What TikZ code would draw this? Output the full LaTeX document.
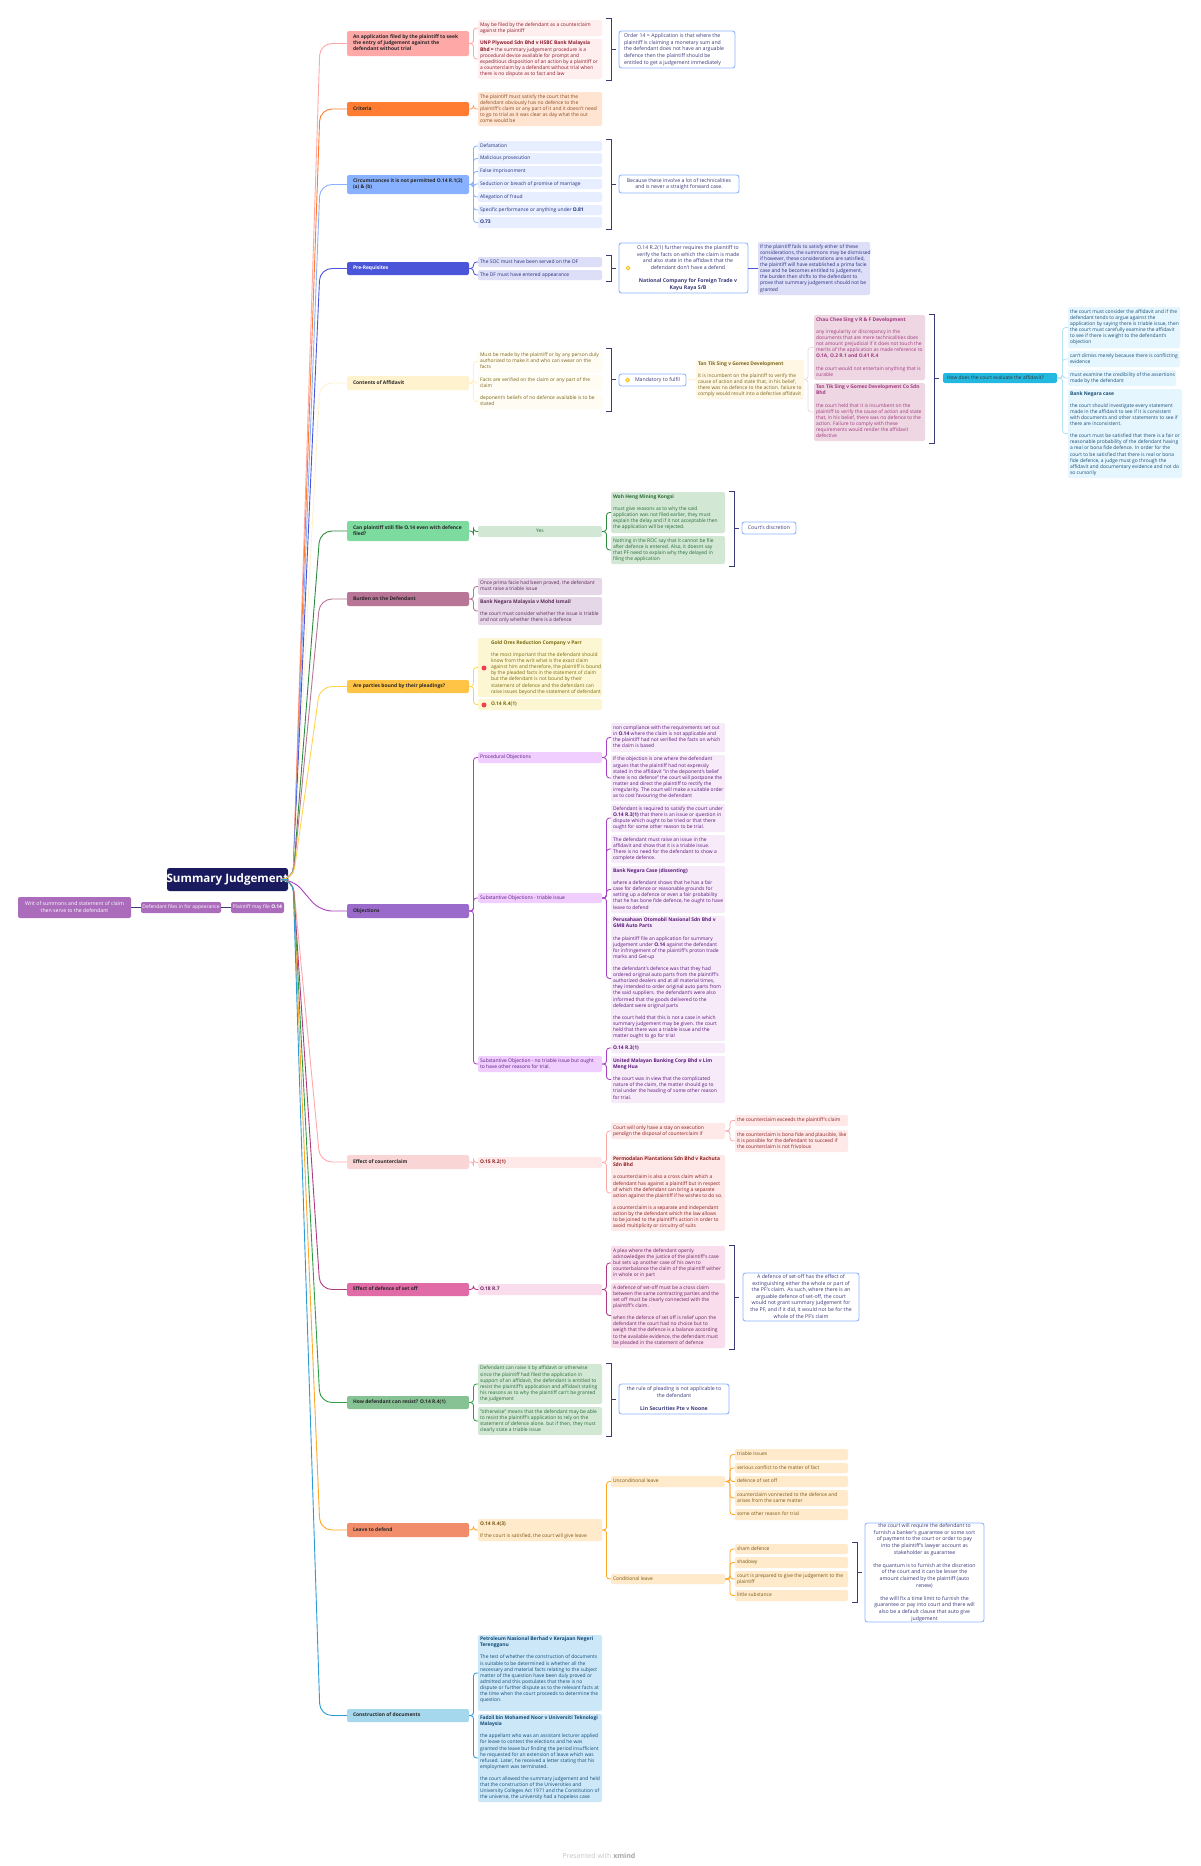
\documentclass[tikz,border=0pt]{standalone}
\usepackage{fontspec}
\setmainfont{Open Sans}
\newcommand{\fsn}{\fontsize{4.95}{6.1}\selectfont}
\newcommand{\fsc}{\fontsize{5.2}{6.6}\selectfont}
\newcommand{\lbx}[8][2]{%
  \pgfmathsetmacro{\cw}{#6-#4}\pgfmathsetmacro{\ch}{#7-#5}\pgfmathsetmacro{\tw}{#6-#4-2*#1}%
  \node[tbox,#3,inner xsep=#1pt,minimum width=\cw pt,minimum height=\ch pt] (#2) at ({(#4+#6)/2},{(#5+#7)/2})
    {\makebox[\tw pt][l]{\begin{tabular}{@{}l@{}}#8\end{tabular}}};}
\newcommand{\cbx}[8][2]{%
  \pgfmathsetmacro{\cw}{#6-#4}\pgfmathsetmacro{\ch}{#7-#5}\pgfmathsetmacro{\tw}{#6-#4-2*#1}%
  \node[tbox,#3,inner xsep=#1pt,minimum width=\cw pt,minimum height=\ch pt] (#2) at ({(#4+#6)/2},{(#5+#7)/2})
    {\makebox[\tw pt][c]{\begin{tabular}{@{}c@{}}#8\end{tabular}}};}
\newcommand{\kids}[4][4.5]{\foreach \cc in {#4}{\draw[conn=#2] (#3.east) -- ++(#1,0) |- (\cc.west);}}
\newcommand{\brk}[4][5]{\draw[brk] (#2-5,#3) -| (#2,#4) -- (#2-5,#4);
  \draw[brk] (#2,{(#3+#4)/2}) -- ++(#1,0);}
\newcommand{\limb}[2]{\draw[limbline=#1] (root.east) -- ++(5,0) -- (320,0 |- #2.west) -- (#2.west);}
\newcommand{\BL}{\\[6.1pt]}
\newcommand{\BC}{\\[6.6pt]}
\newcommand{\dc}[1]{\definecolor{#1}{HTML}{#1}}
\dc{AB6CBC}\dc{FFA8A8}\dc{FFEEEE}\dc{FF7D33}\dc{FFE4D1}\dc{FFA066}\dc{88B2FF}\dc{E6EEFF}\dc{4A55D9}\dc{DDDEF8}
\dc{FFF2CF}\dc{FFFCF3}\dc{FFF7E3}\dc{EED6E2}\dc{22B8E0}\dc{E6F6FE}\dc{FFEFC4}\dc{F0D8E4}\dc{B5E3F5}\dc{7DDBA0}
\dc{D2E8D5}\dc{2E8B3E}\dc{B97596}\dc{E5D6E8}\dc{FFC445}\dc{FDF6D2}\dc{F5C518}\dc{F04050}\dc{FFD54F}\dc{9B6BCC}
\dc{F0CEFF}\dc{F7EAF9}\dc{A83FC4}\dc{F9D5D5}\dc{FEE8E8}\dc{E06BA6}\dc{F9DDEC}\dc{B03A80}\dc{86C294}\dc{2E9E46}
\dc{F28D6C}\dc{FFEBCC}\dc{FFA726}\dc{A5D8EC}\dc{CCE8F8}\dc{2E9BD6}
\definecolor{T1}{HTML}{8B1A2B}\definecolor{T2}{HTML}{8A4A20}\definecolor{T3}{HTML}{26307A}\definecolor{T4}{HTML}{7A6520}
\definecolor{T5}{HTML}{A03A80}\definecolor{T6}{HTML}{1A4F75}\definecolor{T7}{HTML}{2A6B35}\definecolor{T8}{HTML}{5A2A55}
\definecolor{T9}{HTML}{7A6A10}\definecolor{T10}{HTML}{5A1A7A}\definecolor{T11}{HTML}{8B2020}\definecolor{T12}{HTML}{6A2560}
\definecolor{T13}{HTML}{7A5515}\definecolor{T14}{HTML}{124A75}
\definecolor{navy}{HTML}{3B3B7A}
\definecolor{rootc}{HTML}{1A1A5E}
\definecolor{cblue}{HTML}{8FB4FF}
\tikzset{
  tbox/.style={rectangle,rounded corners=2pt,inner ysep=0pt,outer sep=0pt,font=\fsn},
  mainb/.style={font=\fsn\bfseries,text=black!85},
  call/.style={fill=white,draw=cblue,line width=.9pt,rounded corners=2.5pt,font=\fsc,text=navy},
  conn/.style={draw=#1,line width=.85pt,rounded corners=3pt},
  brk/.style={draw=navy,line width=.75pt},
  limbline/.style={draw=#1,line width=.9pt,rounded corners=12pt},
  ring/.style={circle,fill=white,draw=#1,line width=1pt,inner sep=0pt,minimum size=3.6pt},
  dot/.style={circle,fill=#1,inner sep=0pt,minimum size=5pt}
}
\begin{document}
\begin{tikzpicture}[x=1pt,y=-1pt]
\fill[white] (0,0) rectangle (1200,1866);
\useasboundingbox (0,0) rectangle (1200,1866);
% ---- root and floating
\cbx[4]{root}{fill=rootc,text=white,font=\fontsize{11.6}{14}\selectfont\bfseries,rounded corners=2.5pt}{167}{868}{288}{891}{Summary Judgement}
\cbx{plf}{fill=AB6CBC,text=white}{231}{902}{284}{913}{Plaintiff may file \textbf{O.14}}
\cbx{dfa}{fill=AB6CBC,text=white}{141}{902}{221}{913}{Defendant files in for appearance}
\cbx{wrt}{fill=AB6CBC,text=white,font=\fsc}{18}{897}{131}{918}{Writ of summons and statement of claim\\then serve to the defendant}
\draw[brk,line width=.9pt] (plf.west) -- (dfa.east);
\draw[brk,line width=.9pt] (dfa.west) -- (wrt.east);
% ---- application
\lbx[6]{a0}{mainb,fill=FFA8A8}{347}{31}{469}{56}{An application filed by the plaintiff to seek\\the entry of judgement against the\\defendant without trial}
\lbx{a1}{fill=FFEEEE,text=T1}{478}{20}{602}{36}{May be filed by the defendant as a counterclaim\\against the plaintiff}
\lbx{a2}{fill=FFEEEE,text=T1}{478}{39}{602}{79}{\textbf{UNP Plywood Sdn Bhd v HSBC Bank Malaysia}\\\textbf{Bhd =} the summary judgement procedure is a\\procedural device available for prompt and\\expeditious disposition of an action by a plaintiff or\\a counterclaim by a defendant without trial when\\there is no dispute as to fact and law}
\lbx[5]{a3}{call}{619}{31}{735}{68}{Order 14 = Application is that where the\\plaintiff is claiming a monetary sum and\\the defendant does not have an arguable\\defence then the plaintiff should be\\entitled to get a judgement immediately}
\kids{FFA8A8}{a0}{a1,a2}
\brk{611}{18}{80}
% ---- criteria
\lbx[6]{b0}{mainb,fill=FF7D33}{347}{102}{469}{116}{Criteria}
\lbx{b1}{fill=FFE4D1,text=T2}{478}{92}{602}{126}{The plaintiff must satisfy the court that the\\defendant obviously has no defence to the\\plaintiff's claim or any part of it and it doesn't need\\to go to trial as it was clear as day what the out\\come would be}
\kids{FFA066}{b0}{b1}
% ---- circumstances
\lbx[6]{c0}{mainb,fill=88B2FF}{347}{175}{469}{194}{Circumstances it is not permitted O.14 R.1(2)\\(a) \& (b)}
\lbx{c1}{fill=E6EEFF,text=T3}{478}{141}{602}{151}{Defamation}
\lbx{c2}{fill=E6EEFF,text=T3}{478}{153}{602}{164}{Malicious prosecution}
\lbx{c3}{fill=E6EEFF,text=T3}{478}{166}{602}{177}{False imprisonment}
\lbx{c4}{fill=E6EEFF,text=T3}{478}{179}{602}{189}{Seduction or breach of promise of marriage}
\lbx{c5}{fill=E6EEFF,text=T3}{478}{192}{602}{202}{Allegation of fraud}
\lbx{c6}{fill=E6EEFF,text=T3}{478}{205}{602}{215}{Specific performance or anything under \textbf{O.81}}
\lbx{c7}{fill=E6EEFF,text=T3}{478}{217}{602}{228}{\textbf{O.73}}
\cbx[5]{c8}{call}{619}{175}{739}{193}{Because these involve a lot of technicalities\\and is never a straight forward case.}
\kids{88B2FF}{c0}{c1,c2,c3,c4,c5,c6,c7}
\brk{611}{139}{229}
% ---- pre-requisites
\lbx[6]{d0}{mainb,fill=4A55D9,text=white}{347}{262}{469}{275}{Pre-Requisites}
\lbx{d1}{fill=DDDEF8,text=T3}{478}{257}{602}{267}{The SOC must have been served on the DF}
\lbx{d2}{fill=DDDEF8,text=T3}{478}{270}{602}{280}{The DF must have entered appearance}
\cbx[5]{d3}{call}{619}{243}{748}{293}{\hspace*{9pt}O.14 R.2(1) further requires the plaintiff to\\\hspace*{9pt}verify the facts on which the claim is made\\\hspace*{9pt}and also state in the affidavit that the\\\hspace*{9pt}defendant don't have a defend\BC\hspace*{9pt}\textbf{National Company for Foreign Trade v}\\\hspace*{9pt}\textbf{Kayu Raya S/B}}
\lbx{d4}{fill=DDDEF8,text=T3}{758}{242}{870}{295}{If the plaintiff fails to satisfy either of these\\considerations, the summons may be dismissed\\if however, these considerations are satisfied,\\the plaintiff will have established a prima facie\\case and he becomes entitled to judgement,\\the burden then shifts to the defendant to\\prove that summary judgement should not be\\granted}
\node[ring=F5C518] (d5) at (628,268) {};
\kids{4A55D9}{d0}{d1,d2}
\draw[conn=4A55D9] (d3.east |- d4.west) -- (d4.west);
\brk{611}{255}{281}
% ---- contents
\lbx[6]{e0}{mainb,fill=FFF2CF}{347}{376}{469}{390}{Contents of Affidavit}
\lbx{e1}{fill=FFFCF3,text=T4}{478}{351}{602}{372}{Must be made by the plaintiff or by any person duly\\authorized to make it and who can swear on the\\facts}
\lbx{e2}{fill=FFFCF3,text=T4}{478}{375}{602}{391}{Facts are verified on the claim or any part of the\\claim}
\lbx{e3}{fill=FFFCF3,text=T4}{478}{394}{602}{409}{deponent's beliefs of no defence available is to be\\stated}
\lbx[16]{e4}{call}{619}{374}{686}{386}{Mandatory to fulfil}
\node[ring=F5C518] (e5) at (627.5,380) {};
\lbx{e6}{fill=FFF7E3,text=T4}{696}{360}{804}{399}{\textbf{Tan Tik Sing v Gomez Development}\BL It is incumbent on the plaintiff to verify the\\cause of action and state that, in his belief,\\there was no defence to the action. failure to\\comply would result into a defective affidavit}
\lbx{e7}{fill=EED6E2,text=T5}{814}{315}{925}{380}{\textbf{Chau Chee Sing v  R \& F Development}\BL any irregularity or discrepancy in the\\documents that are mere technicalities does\\not amount prejudicial if it does not touch the\\merits of the application as made reference to\\\textbf{O.1A, O.2 R.1 and O.41 R.4}\BL the court would not entertain anything that is\\curable}
\lbx{e8}{fill=EED6E2,text=T5}{814}{383}{925}{441}{\textbf{Tan Tik Sing v Gomez Development Co Sdn}\\\textbf{Bhd}\BL the court held that it is incumbent on the\\plaintiff to verify the cause of action and state\\that, in his belief, there was no defence to the\\action. Failure to comply with these\\requirements would render the affidavit\\defective}
\lbx[4]{e9}{fill=22B8E0,text=black!80}{943}{373}{1057}{383}{How does the court evaluate the affidavit?}
\lbx{e10}{fill=E6F6FE,text=T6}{1068}{307}{1180}{348}{the court must consider the affidavit and if the\\defendant tends to argue against the\\application by saying there is triable issue, then\\the court must carefully examine the affidavit\\to see if there is weight to the defendant's\\objection}
\lbx{e11}{fill=E6F6FE,text=T6}{1068}{351}{1180}{367}{can't dimiss merely because there is conflicting\\evidence}
\lbx{e12}{fill=E6F6FE,text=T6}{1068}{370}{1176}{386}{must examine the credibility of the assertions\\made by the defendant}
\lbx{e13}{fill=E6F6FE,text=T6}{1068}{389}{1182}{478}{\textbf{Bank Negara case}\BL the court should investigate every statement\\made in the affidavit to see if it is consistent\\with documents and other statements to see if\\there are inconsistent.\BL the court must be satisfied that there is a fair or\\reasonable probability of the defendant having\\a real or bona fide defence. In order for the\\court to be satisfied that there is real or bona\\fide defence, a judge must go through the\\affidavit and documentary evidence and not do\\so cursorily}
\kids{FFEFC4}{e0}{e1,e2,e3}
\draw[conn=FFEFC4] (e4.east) -- (e6.west);
\kids[4]{F0D8E4}{e6}{e7,e8}
\kids[5.5]{B5E3F5}{e9}{e10,e11,e12,e13}
\brk{611}{348}{411}
\brk{934}{314}{443}
% ---- can plaintiff
\lbx[6]{f0}{mainb,fill=7DDBA0}{347}{521}{469}{541}{Can plaintiff still file O.14 even with defence\\filed?}
\cbx{f1}{fill=D2E8D5,text=T7}{478}{526}{602}{537}{Yes}
\lbx{f2}{fill=D2E8D5,text=T7}{611}{492}{725}{533}{\textbf{Woh Heng Mining Kongsi}\BL must give reasons as to why the said\\application was not filed earlier, they must\\explain the delay and if it not acceptable then\\the application will be rejected.}
\lbx{f3}{fill=D2E8D5,text=T7}{611}{536}{725}{564}{Nothing in the ROC say that it cannot be file\\after defence is entered. Also, it doesnt say\\that PF need to explain why they delayed in\\filing the application}
\cbx[3]{f4}{call}{742}{522}{796}{534}{Court's discretion}
\kids{2E8B3E}{f0}{f1}
\kids{2E8B3E}{f1}{f2,f3}
\brk{734}{491}{566}
% ---- burden
\lbx[6]{g0}{mainb,fill=B97596}{347}{592}{469}{606}{Burden on the Defendant}
\lbx{g1}{fill=E5D6E8,text=T8}{478}{578}{602}{595}{Once prima facie had been proved, the defendant\\must raise a triable issue}
\lbx{g2}{fill=E5D6E8,text=T8}{478}{597}{602}{625}{\textbf{Bank Negara Malaysia v Mohd Ismail}\BL the court must consider whether the issue is triable\\and not only whether there is a defence}
\kids{B97596}{g0}{g1,g2}
% ---- parties
\lbx[6]{h0}{mainb,fill=FFC445}{347}{680}{469}{693}{Are parties bound by their pleadings?}
\lbx[13]{h1}{fill=FDF6D2,text=T9}{478}{638}{602}{697}{\textbf{Gold Ores Reduction Company v Parr}\BL the most important that the defendant should\\know from the writ what is the exact claim\\against him and therefore, the plaintiff is bound\\by the pleaded facts in the statement of claim\\but the defendant is not bound by their\\statement of defence and the defendant can\\raise issues beyond the statement of defendant}
\lbx[13]{h2}{fill=FDF6D2,text=T9}{478}{699}{602}{710}{\textbf{O.14 R.4(1)}}
\node[dot=F04050] (h3) at (484,668) {};
\node[dot=F04050] (h4) at (484,705) {};
\kids{FFD54F}{h0}{h1,h2}
% ---- objections
\lbx[6]{i0}{mainb,fill=9B6BCC}{347}{904}{469}{918}{Objections}
\lbx{i1}{fill=F0CEFF,text=T10}{478}{752}{602}{763}{Procedural Objections}
\lbx{i2}{fill=F0CEFF,text=T10}{478}{893}{602}{903}{Substantive Objections - triable issue}
\lbx{i3}{fill=F0CEFF,text=T10}{478}{1056}{602}{1072}{Substantive Objection - no triable issue but ought\\to have other reasons for trial.}
\lbx{j1}{fill=F7EAF9,text=T10}{611}{723}{725}{752}{non compliance with the requirements set out\\in \textbf{O.14} where the claim is not applicable and\\the plaintiff had not verified the facts on which\\the claim is based}
\lbx{j2}{fill=F7EAF9,text=T10}{611}{755}{725}{801}{If the objection is one where the defendant\\argues that the plaintiff had not expressly\\stated in the affidavit "in the deponent's belief\\there is no defence" the court will postpone the\\matter and direct the plaintiff to rectify the\\irregularity. The court will make a suitable order\\as to cost favouring the defendant}
\lbx{j3}{fill=F7EAF9,text=T10}{611}{804}{725}{832}{Defendant is required to satisfy the court under\\\textbf{O.14 R.3(1)} that there is an issue or question in\\dispute which ought to be tried or that there\\ought for some other reason to be trial.}
\lbx{j4}{fill=F7EAF9,text=T10}{611}{835}{725}{863}{The defendant must raise an issue in the\\affidavit and show that it is a triable issue.\\There is no need for the defendant to show a\\complete defence.}
\lbx{j5}{fill=F7EAF9,text=T10}{611}{866}{725}{913}{\textbf{Bank Negara Case (dissenting)}\BL where a defendant shows that he has a fair\\case for defence or reasonable grounds for\\setting up a defence or even a fair probability\\that he has bone fide defence, he ought to have\\leave to defend}
\lbx{j6}{fill=F7EAF9,text=T10}{611}{916}{725}{1041}{\textbf{Perusahaan Otomobil Nasional Sdn Bhd v}\\\textbf{GMB Auto Parts}\BL the plaintiff file an application for summary\\judgement under \textbf{O.14} against the defendant\\for infringement of the plaintiff's proton trade\\marks and Get-up\BL the defendant's defence was that they had\\ordered original auto parts from the plaintiff's\\authorized dealers and at all material times,\\they intended to order original auto parts from\\the said suppliers. the defendant's were also\\informed that the goods delivered to the\\defedant were original parts\BL the court held that this is not a case in which\\summary judgement may be given. the court\\held that there was a triable issue and the\\matter ought to go for trial}
\lbx{j7}{fill=F7EAF9,text=T10}{611}{1043}{725}{1053}{\textbf{O.14 R.3(1)}}
\lbx{j8}{fill=F7EAF9,text=T10}{611}{1056}{725}{1103}{\textbf{United Malayan Banking Corp Bhd v Lim}\\\textbf{Meng Hua}\BL the court was in view that the complicated\\nature of the claim, the matter should go to\\trial under the heading of some other reason\\for trial.}
\kids{A83FC4}{i0}{i1,i2,i3}
\kids{A83FC4}{i1}{j1,j2}
\kids{A83FC4}{i2}{j3,j4,j5,j6}
\kids{A83FC4}{i3}{j7,j8}
% ---- counterclaim
\lbx[6]{k0}{mainb,fill=F9D5D5}{347}{1155}{469}{1169}{Effect of counterclaim}
\lbx{k1}{fill=FEE8E8,text=T11}{478}{1157}{602}{1168}{\textbf{O.15 R.2(1)}}
\lbx{k2}{fill=FEE8E8,text=T11}{611}{1123}{725}{1139}{Court will only have a stay on execution\\pendign the disposal of counterclaim if}
\lbx{k3}{fill=FEE8E8,text=T11}{611}{1155}{725}{1231}{\textbf{Permodalan Plantations Sdn Bhd v Rachuta}\\\textbf{Sdn Bhd}\BL a counterclaim is also a cross claim which a\\defendant has against a plaintiff but in respect\\of which the defendant can bring a separate\\action against the plaintiff if he wishes to do so.\BL a counterclaim is a separate and independant\\action by the defendant which the law allows\\to be joined to the plaintiff's action in order to\\avoid multiplicity or circuitry of suits}
\lbx{k4}{fill=FEE8E8,text=T11}{735}{1115}{848}{1126}{the counterclaim exceeds the plaintiff's claim}
\lbx{k5}{fill=FEE8E8,text=T11}{735}{1130}{848}{1152}{the counterclaim is bona fide and plausible, like\\it is possible for the defendant to succeed if\\the counterclaim is not frivolous}
\kids{FFA8A8}{k0}{k1}
\kids{FFA8A8}{k1}{k2,k3}
\kids[5]{FFA8A8}{k2}{k4,k5}
% ---- set off
\lbx[6]{m0}{mainb,fill=E06BA6}{347}{1283}{469}{1296}{Effect of defence of set off}
\lbx{m1}{fill=F9DDEC,text=T12}{478}{1284}{602}{1295}{\textbf{O.18 R.7}}
\lbx{m2}{fill=F9DDEC,text=T12}{611}{1246}{725}{1280}{A plea where the defendant openly\\acknowledges the justice of the plaintiff's case\\but sets up another case of his own to\\counterbalance the claim of the plaintiff wither\\in whole or in part}
\lbx{m3}{fill=F9DDEC,text=T12}{611}{1283}{725}{1348}{A defence of set-off must be a cross claim\\between the same contracting parties and the\\set off must be clearly connected with the\\plaintiff's claim.\BL when the defence of set off is relief upon the\\defendant the court had no choice but to\\weigh that the defence is a balance according\\to the available evidence, the defendant must\\be pleaded in the statement of defence}
\cbx[3]{m4}{call}{743}{1273}{859}{1321}{A defence of set-off has the effect of\\extinguishing either the whole or part of\\the PF's claim. As such, where there is an\\arguable defence of set-off, the court\\would not grant summary judgement for\\the PF, and if it did, it would not be for the\\whole of the PF's claim}
\kids{B03A80}{m0}{m1}
\kids{B03A80}{m1}{m2,m3}
\brk{734}{1245}{1349}
% ---- resist
\lbx[6]{n0}{mainb,fill=86C294}{347}{1396}{469}{1409}{How defendant can resist? O.14 R.4(1)}
\lbx{n1}{fill=D2E8D5,text=T7}{478}{1364}{602}{1404}{Defendant can raise it by affidavit or otherwise\\since the plaintiff had filed the application in\\support of an affidavit, the defendant is entitled to\\resist the plaintiff's application and affidavit stating\\his reasons as to why the plaintiff can't be granted\\the judgement}
\lbx{n2}{fill=D2E8D5,text=T7}{478}{1407}{602}{1435}{"otherwise" means that the defendant may be able\\to resist the plaintiff's application to rely on the\\statement of defence alone. but if then, they must\\clearly state a triable issue}
\cbx[3]{n3}{call}{619}{1384}{729}{1414}{the rule of pleading is not applicable to\\the defendant\BC\textbf{Lin Securities Pte v Noone}}
\kids{2E9E46}{n0}{n1,n2}
\brk{611}{1363}{1436}
% ---- leave
\lbx[6]{p0}{mainb,fill=F28D6C}{347}{1523}{469}{1537}{Leave to defend}
\lbx{p1}{fill=FFEBCC,text=T13}{478}{1519}{602}{1541}{\textbf{O.14 R.4(3)}\BL If the court is satisfied, the court will give leave}
\lbx{p2}{fill=FFEBCC,text=T13}{611}{1476}{725}{1487}{Unconditional leave}
\lbx{p3}{fill=FFEBCC,text=T13}{611}{1574}{725}{1584}{Conditional leave}
\lbx{q1}{fill=FFEBCC,text=T13}{735}{1449}{848}{1460}{triable issues}
\lbx{q2}{fill=FFEBCC,text=T13}{735}{1463}{848}{1473}{serious conflict to the matter of fact}
\lbx{q3}{fill=FFEBCC,text=T13}{735}{1476}{848}{1487}{defence of set off}
\lbx{q4}{fill=FFEBCC,text=T13}{735}{1490}{848}{1506}{counterclaim vonnected to the defence and\\arises from the same matter}
\lbx{q5}{fill=FFEBCC,text=T13}{735}{1509}{848}{1520}{some other reason for trial}
\lbx{r1}{fill=FFEBCC,text=T13}{735}{1544}{848}{1554}{sham defence}
\lbx{r2}{fill=FFEBCC,text=T13}{735}{1557}{848}{1568}{shadowy}
\lbx{r3}{fill=FFEBCC,text=T13}{735}{1571}{848}{1587}{court is prepared to give the judgement to the\\plaintiff}
\lbx{r4}{fill=FFEBCC,text=T13}{735}{1590}{848}{1601}{little substance}
\cbx[2]{r5}{call}{865}{1523}{984}{1622}{the court will require the defendant to\\furnish a banker's guarantee or some sort\\of payment to the court or order to pay\\into the plaintiff's lawyer account as\\stakeholder as guarantee\BC the quantum is to furnish at the discretion\\of the court and it can be lesser the\\amount claimed by the plaintiff (auto\\renew)\BC the willl fix a time limit to furnish the\\guarantee or pay into court and there will\\also be a default clause that auto give\\judgement}
\kids{FFA726}{p0}{p1}
\kids{FFA726}{p1}{p2,p3}
\kids[5]{FFA726}{p2}{q1,q2,q3,q4,q5}
\kids[5]{FFA726}{p3}{r1,r2,r3,r4}
\brk{857}{1542}{1602}
% ---- construction
\lbx[6]{s0}{mainb,fill=A5D8EC}{347}{1709}{469}{1722}{Construction of documents}
\lbx{s1}{fill=CCE8F8,text=T14}{478}{1635}{602}{1711}{\textbf{Petroleum Nasional Berhad v Kerajaan Negeri}\\\textbf{Terengganu}\BL The test of whether the construction of documents\\is suitable to be determined is whether all the\\necessary and material facts relating to the subject\\matter of the question have been duly proved or\\admitted and this postulates that there is no\\dispute or further dispute as to the relevant facts at\\the time when the court proceeds to determine the\\question.\BL}
\lbx{s2}{fill=CCE8F8,text=T14}{478}{1714}{602}{1802}{\textbf{Fadzil bin Mohamed Noor v Universiti Teknologi}\\\textbf{Malaysia}\BL the appellant who was an assistant lecturer applied\\for leave to contest the elections and he was\\granted the leave but finding the period insufficient\\he requested for an extension of leave which was\\refused. Later, he received a letter stating that his\\employment was terminated.\BL the court allowed the summary judgement and held\\that the construction of the Universities and\\University Colleges Act 1971 and the Constitution of\\the universe, the university had a hopeless case}
\kids{2E9BD6}{s0}{s1,s2}
\node[font=\fontsize{7}{8}\selectfont,text=black!22] (foot) at (599,1856) {Presented with \textbf{\textcolor{black!35}{xmind}}};
% ---- main limbs
\limb{FFA8A8}{a0}
\limb{FF7D33}{b0}
\limb{88B2FF}{c0}
\limb{4A55D9}{d0}
\limb{FFF2CF}{e0}
\limb{2E8B3E}{f0}
\limb{B97596}{g0}
\limb{FFD54F}{h0}
\limb{A83FC4}{i0}
\limb{FFA8A8}{k0}
\limb{B03A80}{m0}
\limb{2E9E46}{n0}
\limb{FFA726}{p0}
\limb{2E9BD6}{s0}
\end{tikzpicture}
\end{document}
